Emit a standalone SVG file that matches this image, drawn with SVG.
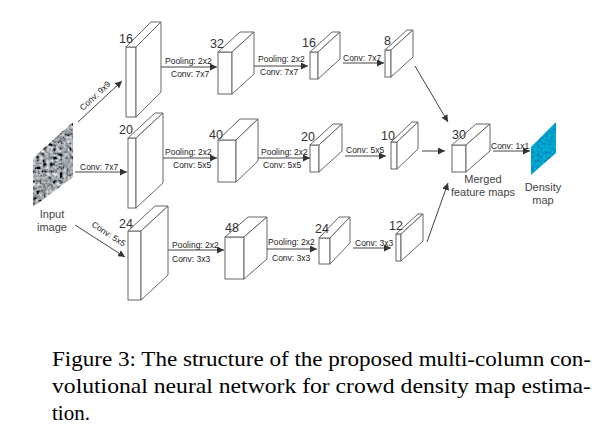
<svg xmlns="http://www.w3.org/2000/svg" width="606" height="435" viewBox="0 0 606 435">
<style>
.b polygon,.b rect{fill:#fff;stroke:#666;stroke-width:1}
.c line{stroke:#444;stroke-width:1;marker-end:url(#ah)}
.l{font-family:"Liberation Sans",Arial,sans-serif;font-size:8.5px;fill:#222}
.n{font-family:"Liberation Sans",Arial,sans-serif;font-size:12.5px;fill:#333}
.t{font-family:"Liberation Sans",Arial,sans-serif;font-size:11px;fill:#444;text-anchor:middle}
.cap{font-family:"Liberation Serif","Times New Roman",serif;font-size:21px;fill:#000}
</style>
<defs>
<marker id="ah" viewBox="0 0 10 10" refX="10" refY="5" markerWidth="7" markerHeight="7" orient="auto" markerUnits="userSpaceOnUse"><path d="M0,0L10,5L0,10z" fill="#333"/></marker>
<filter id="gn" x="0" y="0" width="1" height="1"><feTurbulence type="fractalNoise" baseFrequency="0.3" numOctaves="2" seed="3"/><feColorMatrix type="matrix" values="0.33 0.33 0.33 0 0  0.33 0.33 0.33 0 0  0.33 0.33 0.33 0 0  0 0 0 0 1"/><feComponentTransfer><feFuncR type="linear" slope="2.5" intercept="-0.9"/><feFuncG type="linear" slope="2.5" intercept="-0.88"/><feFuncB type="linear" slope="2.5" intercept="-0.86"/></feComponentTransfer></filter>
<filter id="bn" x="0" y="0" width="1" height="1"><feTurbulence type="fractalNoise" baseFrequency="0.35" numOctaves="2" seed="7"/><feColorMatrix type="matrix" values="0 0 0 0 0.0  0.5 0 0 0 0.1  0 0.5 0 0 0.35  0 0 0 0 1"/></filter>
<clipPath id="ci"><polygon points="33,158 73,122 73,177 33,207"/></clipPath>
<clipPath id="cd"><polygon points="531,147 556,122 556,153 531,175"/></clipPath>
</defs>
<rect width="606" height="435" fill="#fff"/>
<g id="input"><rect x="33" y="122" width="40" height="85" filter="url(#gn)" clip-path="url(#ci)"/><text class="t" x="52" y="218">Input</text><text class="t" x="52" y="231">image</text></g>
<g id="r1b1" class="b"><rect x="126" y="47" width="10" height="70"/><polygon points="126,47 151,22 161,22 136,47"/><polygon points="136,47 161,22 161,92 136,117"/><text class="n" x="119" y="43">16</text></g>
<g id="r1b2" class="b"><rect x="218" y="52" width="14" height="42"/><polygon points="218,52 240,32 254,32 232,52"/><polygon points="232,52 254,32 254,74 232,94"/><text class="n" x="210" y="48">32</text></g>
<g id="r1b3" class="b"><rect x="310" y="52" width="8" height="27"/><polygon points="310,52 332,32 340,32 318,52"/><polygon points="318,52 340,32 340,59 318,79"/><text class="n" x="302" y="47">16</text></g>
<g id="r1b4" class="b"><rect x="385" y="50" width="6" height="27"/><polygon points="385,50 407,30 413,30 391,50"/><polygon points="391,50 413,30 413,57 391,77"/><text class="n" x="384" y="45">8</text></g>
<g id="r2b1" class="b"><rect x="128" y="138" width="8" height="70"/><polygon points="128,138 155,113 163,113 136,138"/><polygon points="136,138 163,113 163,183 136,208"/><text class="n" x="119" y="134">20</text></g>
<g id="r2b2" class="b"><rect x="218" y="140" width="18" height="42"/><polygon points="218,140 240,119 258,119 236,140"/><polygon points="236,140 258,119 258,161 236,182"/><text class="n" x="209" y="139">40</text></g>
<g id="r2b3" class="b"><rect x="310" y="145" width="9" height="27"/><polygon points="310,145 333,124 342,124 319,145"/><polygon points="319,145 342,124 342,151 319,172"/><text class="n" x="301" y="141">20</text></g>
<g id="r2b4" class="b"><rect x="391" y="142" width="6" height="27"/><polygon points="391,142 412,122 418,122 397,142"/><polygon points="397,142 418,122 418,149 397,169"/><text class="n" x="381" y="140">10</text></g>
<g id="merged" class="b"><rect x="452" y="145" width="14" height="27"/><polygon points="452,145 476,124 490,124 466,145"/><polygon points="466,145 490,124 490,151 466,172"/><text class="n" x="452" y="139">30</text><text class="t" x="483" y="183">Merged</text><text class="t" x="483" y="196">feature maps</text></g>
<g id="r3b1" class="b"><rect x="128" y="231" width="13" height="69"/><polygon points="128,231 155,206 168,206 141,231"/><polygon points="141,231 168,206 168,275 141,300"/><text class="n" x="119" y="228">24</text></g>
<g id="r3b2" class="b"><rect x="225" y="237" width="19" height="42"/><polygon points="225,237 248,217 267,217 244,237"/><polygon points="244,237 267,217 267,259 244,279"/><text class="n" x="225" y="232">48</text></g>
<g id="r3b3" class="b"><rect x="319" y="238" width="11" height="26"/><polygon points="319,238 339,217 350,217 330,238"/><polygon points="330,238 350,217 350,243 330,264"/><text class="n" x="315" y="233">24</text></g>
<g id="r3b4" class="b"><rect x="396" y="234" width="5" height="27"/><polygon points="396,234 418,214 423,214 401,234"/><polygon points="401,234 423,214 423,241 401,261"/><text class="n" x="389" y="230">12</text></g>
<g id="density"><rect x="531" y="122" width="25" height="53" filter="url(#bn)" clip-path="url(#cd)"/><text class="t" x="543" y="191">Density</text><text class="t" x="543" y="204">map</text></g>
<g id="connectors" class="c">
<line x1="78" y1="122" x2="122" y2="81"/>
<line x1="161" y1="67" x2="217" y2="67"/>
<line x1="254" y1="66" x2="308" y2="66"/>
<line x1="343" y1="63" x2="384" y2="63"/>
<line x1="415" y1="66" x2="448" y2="122"/>
<line x1="75" y1="172" x2="127" y2="172"/>
<line x1="163" y1="158" x2="217" y2="158"/>
<line x1="258" y1="158" x2="310" y2="158"/>
<line x1="345" y1="156" x2="386" y2="156"/>
<line x1="422" y1="151" x2="445" y2="151"/>
<line x1="493" y1="151" x2="530" y2="151"/>
<line x1="75" y1="225" x2="125" y2="257"/>
<line x1="168" y1="250" x2="224" y2="250"/>
<line x1="267" y1="249" x2="317" y2="249"/>
<line x1="353" y1="248" x2="391" y2="248"/>
<line x1="427" y1="242" x2="448" y2="183"/>
</g>
<g id="labels">
<text class="l" transform="translate(83,111) rotate(-43)">Conv: 9x9</text>
<text class="l" x="165" y="64">Pooling: 2x2</text><text class="l" x="171" y="77">Conv: 7x7</text>
<text class="l" x="258" y="62">Pooling: 2x2</text><text class="l" x="260" y="75">Conv: 7x7</text>
<text class="l" x="343" y="61">Conv: 7x7</text>
<text class="l" x="80" y="170">Conv: 7x7</text>
<text class="l" x="165" y="155">Pooling: 2x2</text><text class="l" x="173" y="168">Conv: 5x5</text>
<text class="l" x="261" y="155">Pooling: 2x2</text><text class="l" x="263" y="168">Conv: 5x5</text>
<text class="l" x="346" y="153">Conv: 5x5</text>
<text class="l" x="491" y="149">Conv: 1x1</text>
<text class="l" transform="translate(91,226) rotate(33)">Conv: 5x5</text>
<text class="l" x="172" y="248">Pooling: 2x2</text><text class="l" x="172" y="262">Conv: 3x3</text>
<text class="l" x="268" y="245">Pooling: 2x2</text><text class="l" x="272" y="261">Conv: 3x3</text>
<text class="l" x="355" y="246">Conv: 3x3</text>
</g>
<g id="caption">
<text class="cap" x="52" y="366" textLength="539" lengthAdjust="spacingAndGlyphs">Figure 3: The structure of the proposed multi-column con-</text>
<text class="cap" x="52" y="393" textLength="539" lengthAdjust="spacingAndGlyphs">volutional neural network for crowd density map estima-</text>
<text class="cap" x="52" y="420">tion.</text>
</g>
</svg>
